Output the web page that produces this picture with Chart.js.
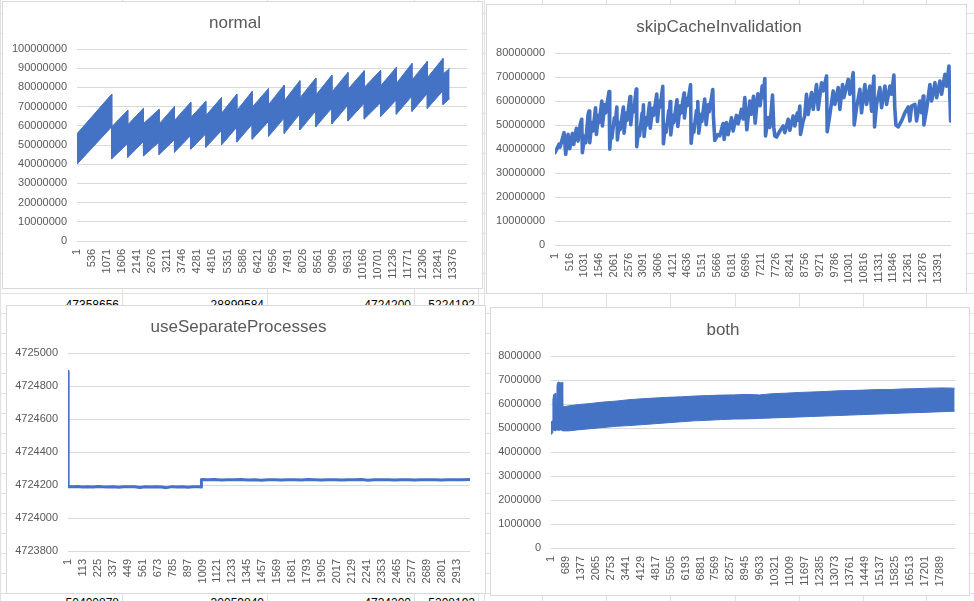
<!DOCTYPE html>
<html><head><meta charset="utf-8">
<script src="https://cdn.jsdelivr.net/npm/chart.js@4.4.1/dist/chart.umd.min.js"></script>
<style>
html,body{margin:0;padding:0;background:#fff;overflow:hidden;}
#sheet{position:relative;width:974px;height:601px;overflow:hidden;background:#fff;}
.hl{position:absolute;left:0;width:974px;height:1px;background:#e1e1e1;}
.vl{position:absolute;top:0;height:601px;width:1px;background:#e1e1e1;}
.cell{position:absolute;font:12px "Liberation Sans",Arial,sans-serif;line-height:12px;color:#000;text-align:right;white-space:nowrap;}
.box{position:absolute;background:#fff;border:1px solid #d9d9d9;box-sizing:border-box;}
</style></head><body>
<div id="sheet"></div>
<script>
// ---------- data ----------
const normalTitle = 'normal';
const normalXTicks = [1,536,1071,1606,2141,2676,3211,3746,4281,4816,5351,5886,6421,6956,7491,8026,8561,9096,9631,10166,10701,11236,11771,12306,12841,13376];
const normalYTicks = [0,10000000,20000000,30000000,40000000,50000000,60000000,70000000,80000000,90000000,100000000];
// [index, upper envelope, lower envelope]
const normalBand = [
 [1,55.9e6,40.0e6],[1235,76.5e6,59.5e6],
 [1236,59.5e6,42.8e6],[1804,68.1e6,50.8e6],
 [1805,60.5e6,43.5e6],[2362,69.1e6,51.8e6],
 [2363,61.2e6,44.3e6],[2919,68.6e6,51.5e6],
 [2920,61.0e6,45.0e6],[3464,70.0e6,52.8e6],
 [3465,62.8e6,46.2e6],[4045,72.3e6,55.0e6],
 [4046,64.3e6,47.8e6],[4579,72.8e6,55.8e6],
 [4580,65.3e6,48.8e6],[5136,74.7e6,57.5e6],
 [5137,66.6e6,50.0e6],[5682,76.5e6,59.3e6],
 [5683,68.0e6,51.5e6],[6227,77.9e6,60.8e6],
 [6228,69.7e6,53.0e6],[6808,79.4e6,62.3e6],
 [6809,71.0e6,54.5e6],[7365,81.2e6,64.0e6],
 [7366,73.0e6,56.0e6],[7922,83.5e6,66.3e6],
 [7923,74.5e6,57.8e6],[8491,84.9e6,67.8e6],
 [8492,76.0e6,59.5e6],[9061,86.4e6,69.3e6],
 [9062,77.6e6,61.0e6],[9630,87.8e6,70.8e6],
 [9631,79.0e6,62.5e6],[10210,88.7e6,71.8e6],
 [10211,80.0e6,63.5e6],[10792,88.9e6,72.0e6],
 [10793,80.8e6,64.8e6],[11349,90.4e6,73.5e6],
 [11350,82.0e6,66.0e6],[11906,92.5e6,75.5e6],
 [11907,83.8e6,67.5e6],[12451,93.6e6,76.8e6],
 [12452,85.0e6,69.0e6],[13008,95.1e6,78.3e6],
 [13009,87.0e6,71.0e6],[13246,89.9e6,74.2e6]
];

const skipTitle = 'skipCacheInvalidation';
const skipXTicks = [1,516,1031,1546,2061,2576,3091,3606,4121,4636,5151,5666,6181,6696,7211,7726,8241,8756,9271,9786,10301,10816,11331,11846,12361,12876,13391];
const skipYTicks = [0,10000000,20000000,30000000,40000000,50000000,60000000,70000000,80000000];
const skipPoints = [
 [1,38.5e6],[142,42.0e6],[180,40.8e6],[317,46.8e6],[376,37.8e6],[457,46.1e6],[516,40.1e6],[609,46.5e6],[656,41.9e6],[749,48.6e6],[808,43.3e6],[889,50.6e6],[936,52.4e6],[959,38.5e6],
 [1041,45.4e6],[1076,42.6e6],[1160,54.4e6],[1193,55.8e6],[1216,42.6e6],[1290,51.0e6],[1330,47.5e6],[1420,57.2e6],[1450,46.1e6],[1520,54.0e6],[1545,51.0e6],[1640,60.0e6],[1660,49.6e6],[1740,58.5e6],[1770,55.0e6],[1893,63.9e6],[1917,39.9e6],
 [1960,47.0e6],[1990,44.5e6],[2080,53.0e6],[2110,50.5e6],[2165,57.5e6],[2185,43.8e6],[2250,51.0e6],[2280,48.0e6],[2395,57.5e6],[2418,46.6e6],[2490,55.0e6],[2520,52.0e6],[2628,61.9e6],[2652,50.1e6],[2720,58.0e6],[2750,55.5e6],[2845,65.0e6],[2862,41.0e6],
 [2930,48.5e6],[2960,45.5e6],[3050,55.0e6],[3070,52.0e6],[3095,58.4e6],[3119,45.2e6],[3190,53.0e6],[3220,50.0e6],[3310,59.1e6],[3335,48.7e6],[3420,57.0e6],[3450,54.0e6],[3562,62.9e6],[3586,51.5e6],[3650,60.0e6],[3680,57.5e6],[3772,66.1e6],[3796,42.2e6],
 [3860,50.0e6],[3890,47.0e6],[3980,56.0e6],[4005,53.0e6],[4029,59.8e6],[4052,45.9e6],[4130,54.0e6],[4160,51.0e6],[4270,60.5e6],[4300,49.4e6],[4380,58.0e6],[4410,55.0e6],[4519,63.3e6],[4531,52.9e6],[4600,61.0e6],[4630,58.0e6],[4745,66.8e6],[4764,42.4e6],
 [4830,50.0e6],[4860,47.0e6],[4950,56.0e6],[4975,53.0e6],[4998,59.8e6],[5033,46.6e6],[5110,54.5e6],[5140,51.5e6],[5240,60.8e6],[5290,50.1e6],[5370,58.5e6],[5400,55.5e6],[5523,64.8e6],[5545,53.6e6],[5594,43.6e6],
 [5700,46.0e6],[5769,45.5e6],[5885,50.6e6],[5920,44.0e6],[6002,51.0e6],[6060,46.0e6],[6177,53.0e6],[6236,47.5e6],[6352,54.0e6],[6411,50.5e6],[6527,56.5e6],[6586,52.5e6],[6644,61.4e6],[6714,48.0e6],[6819,60.0e6],[6877,54.5e6],[6948,62.0e6],[7006,50.8e6],
 [7100,63.0e6],[7180,58.0e6],[7250,66.2e6],[7280,61.4e6],[7344,69.4e6],[7368,45.4e6],[7461,53.1e6],[7520,49.0e6],[7613,62.5e6],[7659,48.9e6],[7694,45.4e6],[7753,45.0e6],[7870,47.5e6],[7986,49.6e6],[8045,46.8e6],[8161,52.4e6],[8220,47.8e6],[8336,53.75e6],[8395,49.6e6],[8480,55.0e6],[8510,52.0e6],[8570,57.9e6],[8593,46.1e6],
 [8687,51.7e6],[8740,53.75e6],[8803,62.8e6],[8862,54.4e6],[8979,63.5e6],[9037,56.5e6],[9154,66.9e6],[9212,56.5e6],[9329,67.6e6],[9387,64.2e6],[9504,70.4e6],[9527,47.2e6],
 [9621,54.4e6],[9737,64.2e6],[9796,58.6e6],[9912,65.6e6],[9971,56.5e6],[10064,66.9e6],[10111,61.4e6],[10263,69.0e6],[10321,62.8e6],[10438,71.8e6],[10473,50.0e6],
 [10554,57.2e6],[10671,64.9e6],[10729,55.1e6],[10846,66.9e6],[10905,58.6e6],[11021,66.25e6],[11080,55.8e6],[11161,70.4e6],[11185,49.2e6],
 [11255,58.6e6],[11372,65.6e6],[11430,57.2e6],[11547,66.25e6],[11605,58.6e6],[11722,66.25e6],[11780,62.8e6],[11862,70.8e6],[11890,57.5e6],[11932,50.0e6],
 [12014,49.2e6],[12130,51.7e6],[12247,55.1e6],[12364,57.5e6],[12422,51.7e6],[12481,57.9e6],[12597,58.6e6],[12656,51.7e6],[12772,60.0e6],[12830,55.1e6],[12889,62.1e6],[12912,50.0e6],
 [13006,56.5e6],[13122,66.9e6],[13181,60.0e6],[13298,67.6e6],[13356,61.4e6],[13473,68.3e6],[13531,62.8e6],[13648,71.1e6],[13707,66.2e6],[13788,74.6e6],[13846,51.7e6]
];

const sepTitle = 'useSeparateProcesses';
const sepXTicks = [1,113,225,337,449,561,673,785,897,1009,1121,1233,1345,1457,1569,1681,1793,1905,2017,2129,2241,2353,2465,2577,2689,2801,2913];
const sepYTicks = [4723800,4724000,4724200,4724400,4724600,4724800,4725000];
const sepPoints = [
 [1,4724890],[2,4724190],[40,4724189],[75,4724191],[110,4724188],[150,4724190],[190,4724188],[225,4724191],[260,4724189],[300,4724188],
 [340,4724190],[380,4724187],[420,4724190],[460,4724189],[500,4724190],[540,4724185],[580,4724189],[620,4724188],[660,4724190],[700,4724188],
 [740,4724184],[780,4724190],[820,4724188],[860,4724190],[900,4724187],[940,4724189],[980,4724190],[1000,4724188],[1001,4724233],[1050,4724232],
 [1100,4724233],[1150,4724231],[1200,4724232],[1250,4724232],[1300,4724233],[1350,4724231],[1400,4724232],[1450,4724229],[1500,4724232],[1550,4724232],
 [1600,4724231],[1650,4724232],[1700,4724232],[1750,4724231],[1800,4724233],[1850,4724232],[1900,4724230],[1950,4724232],[2000,4724232],[2050,4724231],
 [2100,4724232],[2150,4724232],[2200,4724233],[2250,4724229],[2300,4724232],[2350,4724232],[2400,4724232],[2450,4724231],[2500,4724232],[2550,4724232],
 [2600,4724230],[2650,4724232],[2700,4724232],[2750,4724232],[2800,4724231],[2850,4724232],[2900,4724232],[2950,4724232],[3014,4724233]
];

const bothTitle = 'both';
const bothXTicks = [1,689,1377,2065,2753,3441,4129,4817,5505,6193,6881,7569,8257,8945,9633,10321,11009,11697,12385,13073,13761,14449,15137,15825,16513,17201,17889];
const bothYTicks = [0,1000000,2000000,3000000,4000000,5000000,6000000,7000000,8000000];
// [index, upper envelope, lower envelope]
const bothBand = [
 [1,5.25e6,4.72e6],[70,5.30e6,4.80e6],[90,6.20e6,4.95e6],[130,6.40e6,4.90e6],[230,6.45e6,4.88e6],[255,5.50e6,4.95e6],
 [280,6.80e6,4.92e6],[330,6.92e6,4.90e6],[450,6.88e6,4.92e6],[520,6.90e6,4.90e6],[540,5.88e6,4.88e6],[800,5.92e6,4.88e6],
 [1200,5.97e6,4.92e6],[1800,6.02e6,4.97e6],[2400,6.08e6,5.02e6],[3000,6.12e6,5.07e6],[3600,6.18e6,5.10e6],[4200,6.22e6,5.14e6],
 [4800,6.25e6,5.18e6],[5400,6.28e6,5.22e6],[6000,6.30e6,5.26e6],[6600,6.33e6,5.30e6],[7200,6.35e6,5.32e6],[7800,6.37e6,5.35e6],
 [8400,6.38e6,5.37e6],[9000,6.40e6,5.38e6],[9600,6.38e6,5.40e6],[10200,6.43e6,5.42e6],[10800,6.45e6,5.44e6],[11400,6.48e6,5.46e6],
 [12000,6.50e6,5.48e6],[12600,6.52e6,5.50e6],[13200,6.55e6,5.52e6],[13800,6.56e6,5.54e6],[14400,6.58e6,5.56e6],[15000,6.60e6,5.58e6],
 [15600,6.60e6,5.60e6],[16200,6.63e6,5.62e6],[16800,6.64e6,5.64e6],[17400,6.66e6,5.66e6],[18000,6.67e6,5.68e6],[18580,6.66e6,5.70e6]
];

// spreadsheet cell texts partly hidden behind the charts
const cellTexts = [
 {text:'47358656', right:119, top:299},
 {text:'28899584', right:264, top:299},
 {text:'4724200', right:411, top:299},
 {text:'5224192', right:475, top:299},
 {text:'50400878', right:119, top:597},
 {text:'30059840', right:264, top:597},
 {text:'4724200', right:411, top:597},
 {text:'5208192', right:475, top:597}
];

// ---------- page ----------
const FONT = '"Liberation Sans", Arial, sans-serif';
const BLUE = '#4472C4';
const sheet = document.getElementById('sheet');
for (let y = 13; y < 601; y += 20) { const d = document.createElement('div'); d.className='hl'; d.style.top = y+'px'; sheet.appendChild(d); }
[0,122,267,414,478,484,542,606,670,735,799,863,926].forEach(x => { const d = document.createElement('div'); d.className='vl'; d.style.left = x+'px'; sheet.appendChild(d); });
cellTexts.forEach(c => { const d = document.createElement('div'); d.className='cell'; d.textContent=c.text; d.style.right=(974-c.right)+'px'; d.style.top=c.top+'px'; sheet.appendChild(d); });

function makeChart(cfg) {
  const box = document.createElement('div'); box.className = 'box';
  box.style.left = cfg.left+'px'; box.style.top = cfg.top+'px'; box.style.width = cfg.w+'px'; box.style.height = cfg.h+'px';
  const inner = document.createElement('div');
  inner.style.cssText = 'position:absolute;left:0;top:0;width:'+(cfg.w-2)+'px;height:'+(cfg.h-2)+'px';
  const cv = document.createElement('canvas'); inner.appendChild(cv); box.appendChild(inner); sheet.appendChild(box);
  const tickFont = {family: FONT, size: 11};
  new Chart(cv, {
    type: 'line',
    data: {datasets: cfg.datasets},
    options: {
      responsive: true, maintainAspectRatio: false, animation: false,
      elements: {point: {radius: 0}, line: {tension: 0}},
      layout: {padding: {left: 0, right: cfg.padR, top: 0, bottom: 0}},
      plugins: {
        legend: {display: false}, tooltip: {enabled: false},
        title: {display: true, text: cfg.title, color: '#595959',
          font: {family: FONT, size: 17, weight: 'normal', lineHeight: 1.2},
          padding: {top: cfg.titleTop, bottom: cfg.plotTop - cfg.titleTop - 20.4}}
      },
      scales: {
        x: {type: 'linear', min: 1, max: cfg.xMax,
          grid: {display: false, drawTicks: false}, border: {display: false},
          afterBuildTicks: s => { s.ticks = cfg.xTicks.map(v => ({value: v})); },
          afterFit: s => { s.height = cfg.bottomH; },
          ticks: {autoSkip: false, minRotation: 90, maxRotation: 90, padding: 8, color: '#595959', font: tickFont,
            callback: v => String(Math.round(v))}},
        y: {type: 'linear', min: cfg.yTicks[0], max: cfg.yTicks[cfg.yTicks.length-1],
          afterBuildTicks: s => { s.ticks = cfg.yTicks.map(v => ({value: v})); },
          afterFit: s => { s.width = cfg.plotLeft; },
          grid: {color: '#d9d9d9', lineWidth: 1, drawTicks: false}, border: {display: false},
          ticks: {padding: 10, color: '#595959', font: tickFont, callback: v => String(Math.round(v))}}
      }
    }
  });
}

function bandSets(band) {
  return [
    {data: band.map(r => ({x: r[0], y: r[1]})), borderColor: BLUE, backgroundColor: BLUE, borderWidth: 1, fill: '+1'},
    {data: band.map(r => ({x: r[0], y: r[2]})), borderColor: BLUE, backgroundColor: BLUE, borderWidth: 1, fill: false}
  ];
}
function lineSet(points, w) {
  return [{data: points.map(p => ({x: p[0], y: p[1]})), borderColor: BLUE, borderWidth: w, fill: false,
    borderJoinStyle: 'round', borderCapStyle: 'round'}];
}

makeChart({left: 2, top: 1, w: 481, h: 288, plotLeft: 74, padR: 15, plotTop: 47, titleTop: 11, bottomH: 47,
  title: normalTitle, xMax: 13863, xTicks: normalXTicks, yTicks: normalYTicks, datasets: bandSets(normalBand)});
makeChart({left: 486, top: 4, w: 481, h: 290, plotLeft: 68, padR: 15, plotTop: 48, titleTop: 12, bottomH: 48,
  title: skipTitle, xMax: 13860, xTicks: skipXTicks, yTicks: skipYTicks, datasets: lineSet(skipPoints, 3.6)});
makeChart({left: 6, top: 305, w: 480, h: 289, plotLeft: 61, padR: 15, plotTop: 47, titleTop: 11, bottomH: 42,
  title: sepTitle, xMax: 3014, xTicks: sepXTicks, yTicks: sepYTicks, datasets: lineSet(sepPoints, 3)});
makeChart({left: 490, top: 307, w: 480, h: 289, plotLeft: 60, padR: 14, plotTop: 48, titleTop: 12, bottomH: 47,
  title: bothTitle, xMax: 18596, xTicks: bothXTicks, yTicks: bothYTicks, datasets: bandSets(bothBand)});
</script>
</body></html>
